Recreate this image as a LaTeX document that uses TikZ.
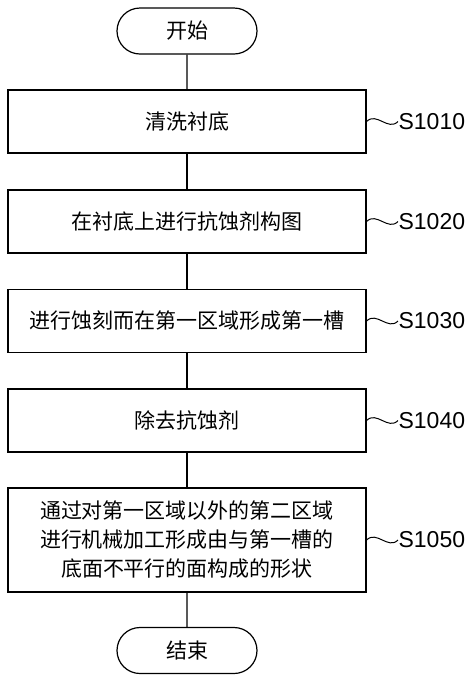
\documentclass[tikz,border=0pt]{standalone}
\usepackage{fontspec}
\setmainfont{Liberation Sans}
\newfontfamily\cjk{Noto Sans CJK SC}
\usetikzlibrary{shapes.misc, positioning}
\tikzset{
  every picture/.style={line width=1.2pt},
  stepbox/.style={draw, rectangle, minimum width=358pt, minimum height=63pt, align=center, inner sep=0pt, font=\cjk\fontsize{21}{29}\selectfont},
  term/.style={draw, rounded rectangle, minimum width=140pt, minimum height=46pt, inner sep=0pt, font=\cjk\fontsize{21}{24}\selectfont},
  steplabel/.style={anchor=west, inner sep=0pt, font=\fontsize{23}{26}\selectfont},
  link/.style={draw, line width=1.2pt},
  wave/.style={draw, line width=1pt},
}

\begin{document}
\begin{tikzpicture}[x=1pt, y=1pt]
  \useasboundingbox (0,0) rectangle (474,-681);
  \node[term] (start) at (187,-31) {开始};
  \node[stepbox] (s1) at (187,-121.5) {清洗衬底};
  \node[stepbox] (s2) at (187,-221.5) {在衬底上进行抗蚀剂构图};
  \node[stepbox] (s3) at (187,-321) {进行蚀刻而在第一区域形成第一槽};
  \node[stepbox] (s4) at (187,-420.5) {除去抗蚀剂};
  \node[stepbox, minimum height=104pt] (s5) at (187,-540) {通过对第一区域以外的第二区域\\进行机械加工形成由与第一槽的\\底面不平行的面构成的形状};
  \node[term] (stop) at (187,-650.5) {结束};
  \draw[link] (start) -- (s1); \draw[link] (s1) -- (s2); \draw[link] (s2) -- (s3);
  \draw[link] (s3) -- (s4); \draw[link] (s4) -- (s5); \draw[link] (s5) -- (stop);
  % step numbers
  \node[steplabel] (l1) at (398,-121.5) {S1010};
  \node[steplabel] (l2) at (398,-221.5) {S1020};
  \node[steplabel] (l3) at (398,-321) {S1030};
  \node[steplabel] (l4) at (398,-420.5) {S1040};
  \node[steplabel] (l5) at (398,-540) {S1050};
  \draw[wave] (s1.east) .. controls +(10,10) and +(-10,-10) .. (l1.west);
  \draw[wave] (s2.east) .. controls +(10,10) and +(-10,-10) .. (l2.west);
  \draw[wave] (s3.east) .. controls +(10,10) and +(-10,-10) .. (l3.west);
  \draw[wave] (s4.east) .. controls +(10,10) and +(-10,-10) .. (l4.west);
  \draw[wave] (s5.east) .. controls +(10,10) and +(-10,-10) .. (l5.west);
\end{tikzpicture}
\end{document}
